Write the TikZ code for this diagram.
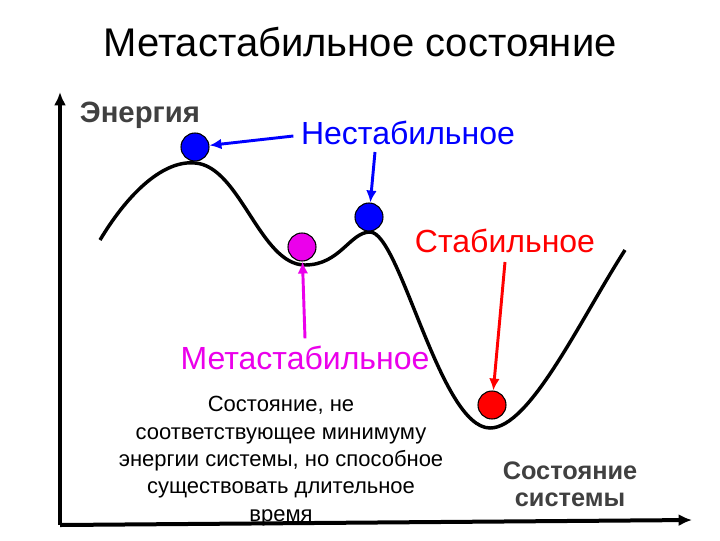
\documentclass[tikz,border=0pt]{standalone}
\usepackage{fontspec}
\setmainfont{Liberation Sans}
\usetikzlibrary{arrows.meta}
\definecolor{mag}{RGB}{235,0,235}
\begin{document}
\begin{tikzpicture}[x=0.75pt,y=-0.75pt,
  ball/.style={circle,draw=black,line width=0.8pt,minimum size=21pt,inner sep=0pt},
  ptr/.style={line width=2.2pt,-{Latex[length=9pt,width=8pt]}},
  lbl/.style={font=\fontsize{24}{28}\selectfont},
  desc/.style={align=center,font=\fontsize{16.5}{20.5}\selectfont}]
\useasboundingbox (0,0) rectangle (720,540);
\fill[white] (0,0) rectangle (720,540);
\node (title) at (360,42) {\fontsize{30}{34}\selectfont Метастабильное состояние};
% axes
\coordinate (o) at (60,525);
\coordinate (ytop) at (60,92);
\coordinate (xend) at (692,520);
\draw[line width=3pt,-{Latex[length=10pt,width=9pt]}] (o) -- (ytop);
\draw[line width=3pt,-{Latex[length=10pt,width=9pt]}] (o) -- (xend);
\node[text=black!75,font=\bfseries\fontsize{22}{24}\selectfont] (en) at (140,115) {Энергия};
\node[text=black!75,font=\bfseries\fontsize{19}{20}\selectfont,align=center] (ss) at (570,484) {Состояние\\системы};
% curve
\draw[line width=2.6pt] (100,240) .. controls (130,190) and (165,160) .. (195,163)
  .. controls (240,166) and (260,265) .. (305,265)
  .. controls (340,265) and (350,232) .. (370,232)
  .. controls (400,232) and (440,428) .. (490,428)
  .. controls (530,428) and (580,320) .. (625,250);
% balls
\node[ball,fill=blue] (b1) at (195,147) {};
\node[ball,fill=mag] (b2) at (302,247) {};
\node[ball,fill=blue] (b3) at (369,217) {};
\node[ball,fill=red] (b4) at (492,405) {};
% labels
\node[lbl,text=blue] (nest) at (408,133) {Нестабильное};
\node[lbl,text=red] (stab) at (505,241) {Стабильное};
\node[lbl,text=mag] (meta) at (305,358) {Метастабильное};
\node[desc] (d) at (281,461) {Состояние, не\\соответствующее минимуму\\энергии системы, но способное\\существовать длительное\\время};
% arrows
\draw[ptr,blue] (nest.west) ++(-3,3) -- (b1);
\draw[ptr,blue] (375,152) -- (b3);
\draw[ptr,red] (505,262) -- (b4);
\draw[ptr,mag] (meta.north -| b2) ++(3,-3) -- (b2);
\end{tikzpicture}
\end{document}
